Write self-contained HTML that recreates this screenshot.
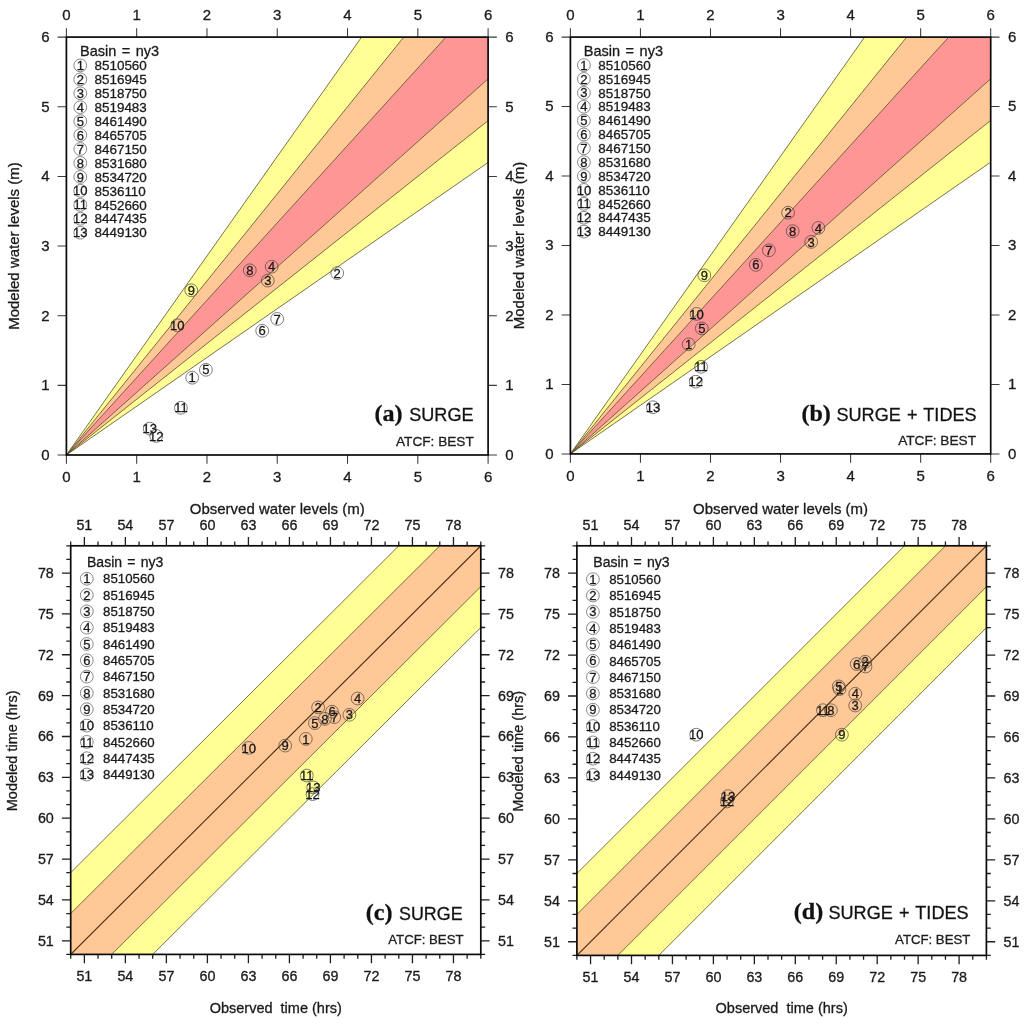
<!DOCTYPE html>
<html lang="en">
<head>
<meta charset="utf-8">
<title>Modeled vs observed water levels and timing - Basin ny3</title>
<style>
html,body{margin:0;padding:0;background:#fff;}
body{width:1024px;height:1026px;overflow:hidden;font-family:"Liberation Sans", "DejaVu Sans", sans-serif;}
svg{display:block;}
text{white-space:pre;stroke:#1a1a1a;stroke-width:0.3px;}
</style>
</head>
<body>
<svg width="1024" height="1026" viewBox="0 0 1024 1026">
<rect width="1024" height="1026" fill="#ffffff"/>
<g id="panel-a">
<clipPath id="clip-a"><rect x="66.4" y="37.1" width="421.7" height="417.9"/></clipPath>
<g clip-path="url(#clip-a)">
<polygon points="66.4,455 909.8,-130.06 909.8,-739" fill="#ffff96"/>
<polygon points="66.4,455 909.8,-213.64 909.8,-589.75" fill="#ffc896"/>
<polygon points="66.4,455 909.8,-297.22 909.8,-473.67" fill="#ff9696"/>
<line x1="66.4" y1="455" x2="909.8" y2="-130.06" stroke="#55502a" stroke-width="0.8"/>
<line x1="66.4" y1="455" x2="909.8" y2="-739" stroke="#55502a" stroke-width="0.8"/>
<line x1="66.4" y1="455" x2="909.8" y2="-213.64" stroke="#55502a" stroke-width="0.8"/>
<line x1="66.4" y1="455" x2="909.8" y2="-589.75" stroke="#55502a" stroke-width="0.8"/>
<line x1="66.4" y1="455" x2="909.8" y2="-297.22" stroke="#55502a" stroke-width="0.8"/>
<line x1="66.4" y1="455" x2="909.8" y2="-473.67" stroke="#55502a" stroke-width="0.8"/>
</g>
<path d="M66.4 455v8.8M66.4 37.1v-8.8M66.4 455h-8.8M488.1 455h8.8M136.68 455v8.8M136.68 37.1v-8.8M66.4 385.35h-8.8M488.1 385.35h8.8M206.97 455v8.8M206.97 37.1v-8.8M66.4 315.7h-8.8M488.1 315.7h8.8M277.25 455v8.8M277.25 37.1v-8.8M66.4 246.05h-8.8M488.1 246.05h8.8M347.53 455v8.8M347.53 37.1v-8.8M66.4 176.4h-8.8M488.1 176.4h8.8M417.82 455v8.8M417.82 37.1v-8.8M66.4 106.75h-8.8M488.1 106.75h8.8M488.1 455v8.8M488.1 37.1v-8.8M66.4 37.1h-8.8M488.1 37.1h8.8" stroke="#3a3a3a" stroke-width="1.05" fill="none"/>
<rect x="66.4" y="37.1" width="421.7" height="417.9" fill="none" stroke="#0a0a0a" stroke-width="1.7"/>
<g font-family='"Liberation Sans", "DejaVu Sans", sans-serif' font-size="15" fill="#1a1a1a">
<text x="66.4" y="482.4" text-anchor="middle">0</text>
<text x="66.4" y="20" text-anchor="middle">0</text>
<text x="49.5" y="459.9" text-anchor="end">0</text>
<text x="505.3" y="459.9" text-anchor="start">0</text>
<text x="136.68" y="482.4" text-anchor="middle">1</text>
<text x="136.68" y="20" text-anchor="middle">1</text>
<text x="49.5" y="390.25" text-anchor="end">1</text>
<text x="505.3" y="390.25" text-anchor="start">1</text>
<text x="206.97" y="482.4" text-anchor="middle">2</text>
<text x="206.97" y="20" text-anchor="middle">2</text>
<text x="49.5" y="320.6" text-anchor="end">2</text>
<text x="505.3" y="320.6" text-anchor="start">2</text>
<text x="277.25" y="482.4" text-anchor="middle">3</text>
<text x="277.25" y="20" text-anchor="middle">3</text>
<text x="49.5" y="250.95" text-anchor="end">3</text>
<text x="505.3" y="250.95" text-anchor="start">3</text>
<text x="347.53" y="482.4" text-anchor="middle">4</text>
<text x="347.53" y="20" text-anchor="middle">4</text>
<text x="49.5" y="181.3" text-anchor="end">4</text>
<text x="505.3" y="181.3" text-anchor="start">4</text>
<text x="417.82" y="482.4" text-anchor="middle">5</text>
<text x="417.82" y="20" text-anchor="middle">5</text>
<text x="49.5" y="111.65" text-anchor="end">5</text>
<text x="505.3" y="111.65" text-anchor="start">5</text>
<text x="488.1" y="482.4" text-anchor="middle">6</text>
<text x="488.1" y="20" text-anchor="middle">6</text>
<text x="49.5" y="42" text-anchor="end">6</text>
<text x="505.3" y="42" text-anchor="start">6</text>
</g>
<g font-family='"Liberation Sans", "DejaVu Sans", sans-serif' fill="#1a1a1a">
<text x="80" y="56.1" font-size="14.5" word-spacing="1.5">Basin = ny3</text>
<circle cx="80.3" cy="65.4" r="6.4" fill="none" stroke="#4a4a4a" stroke-width="0.65"/>
<text x="80.3" y="70" font-size="13" text-anchor="middle">1</text>
<text x="94.5" y="70.1" font-size="13.45">8510560</text>
<circle cx="80.3" cy="79.34" r="6.4" fill="none" stroke="#4a4a4a" stroke-width="0.65"/>
<text x="80.3" y="83.94" font-size="13" text-anchor="middle">2</text>
<text x="94.5" y="84.04" font-size="13.45">8516945</text>
<circle cx="80.3" cy="93.28" r="6.4" fill="none" stroke="#4a4a4a" stroke-width="0.65"/>
<text x="80.3" y="97.88" font-size="13" text-anchor="middle">3</text>
<text x="94.5" y="97.98" font-size="13.45">8518750</text>
<circle cx="80.3" cy="107.22" r="6.4" fill="none" stroke="#4a4a4a" stroke-width="0.65"/>
<text x="80.3" y="111.82" font-size="13" text-anchor="middle">4</text>
<text x="94.5" y="111.92" font-size="13.45">8519483</text>
<circle cx="80.3" cy="121.16" r="6.4" fill="none" stroke="#4a4a4a" stroke-width="0.65"/>
<text x="80.3" y="125.76" font-size="13" text-anchor="middle">5</text>
<text x="94.5" y="125.86" font-size="13.45">8461490</text>
<circle cx="80.3" cy="135.1" r="6.4" fill="none" stroke="#4a4a4a" stroke-width="0.65"/>
<text x="80.3" y="139.7" font-size="13" text-anchor="middle">6</text>
<text x="94.5" y="139.8" font-size="13.45">8465705</text>
<circle cx="80.3" cy="149.04" r="6.4" fill="none" stroke="#4a4a4a" stroke-width="0.65"/>
<text x="80.3" y="153.64" font-size="13" text-anchor="middle">7</text>
<text x="94.5" y="153.74" font-size="13.45">8467150</text>
<circle cx="80.3" cy="162.98" r="6.4" fill="none" stroke="#4a4a4a" stroke-width="0.65"/>
<text x="80.3" y="167.58" font-size="13" text-anchor="middle">8</text>
<text x="94.5" y="167.68" font-size="13.45">8531680</text>
<circle cx="80.3" cy="176.92" r="6.4" fill="none" stroke="#4a4a4a" stroke-width="0.65"/>
<text x="80.3" y="181.52" font-size="13" text-anchor="middle">9</text>
<text x="94.5" y="181.62" font-size="13.45">8534720</text>
<circle cx="80.3" cy="190.86" r="6.4" fill="none" stroke="#4a4a4a" stroke-width="0.65"/>
<text x="80.3" y="195.46" font-size="13" text-anchor="middle">10</text>
<text x="94.5" y="195.56" font-size="13.45">8536110</text>
<circle cx="80.3" cy="204.8" r="6.4" fill="none" stroke="#4a4a4a" stroke-width="0.65"/>
<text x="80.3" y="209.4" font-size="13" text-anchor="middle">11</text>
<text x="94.5" y="209.5" font-size="13.45">8452660</text>
<circle cx="80.3" cy="218.74" r="6.4" fill="none" stroke="#4a4a4a" stroke-width="0.65"/>
<text x="80.3" y="223.34" font-size="13" text-anchor="middle">12</text>
<text x="94.5" y="223.44" font-size="13.45">8447435</text>
<circle cx="80.3" cy="232.68" r="6.4" fill="none" stroke="#4a4a4a" stroke-width="0.65"/>
<text x="80.3" y="237.28" font-size="13" text-anchor="middle">13</text>
<text x="94.5" y="237.38" font-size="13.45">8449130</text>
</g>
<g font-family='"Liberation Sans", "DejaVu Sans", sans-serif' font-size="13" fill="#1a1a1a" text-anchor="middle">
<circle cx="192.2" cy="377.7" r="6.4" fill="none" stroke="#3a3a3a" stroke-width="0.65"/>
<text x="192.2" y="382.3">1</text>
<circle cx="337.2" cy="273.1" r="6.4" fill="none" stroke="#3a3a3a" stroke-width="0.65"/>
<text x="337.2" y="277.7">2</text>
<circle cx="267.8" cy="280.6" r="6.4" fill="none" stroke="#3a3a3a" stroke-width="0.65"/>
<text x="267.8" y="285.2">3</text>
<circle cx="271.7" cy="266.7" r="6.4" fill="none" stroke="#3a3a3a" stroke-width="0.65"/>
<text x="271.7" y="271.3">4</text>
<circle cx="205.9" cy="369.8" r="6.4" fill="none" stroke="#3a3a3a" stroke-width="0.65"/>
<text x="205.9" y="374.4">5</text>
<circle cx="262.2" cy="330.8" r="6.4" fill="none" stroke="#3a3a3a" stroke-width="0.65"/>
<text x="262.2" y="335.4">6</text>
<circle cx="277.2" cy="318.9" r="6.4" fill="none" stroke="#3a3a3a" stroke-width="0.65"/>
<text x="277.2" y="323.5">7</text>
<circle cx="249.8" cy="270.3" r="6.4" fill="none" stroke="#3a3a3a" stroke-width="0.65"/>
<text x="249.8" y="274.9">8</text>
<circle cx="191.25" cy="290.3" r="6.4" fill="none" stroke="#3a3a3a" stroke-width="0.65"/>
<text x="191.25" y="294.9">9</text>
<circle cx="177.2" cy="325.3" r="6.4" fill="none" stroke="#3a3a3a" stroke-width="0.65"/>
<text x="177.2" y="329.9">10</text>
<circle cx="180.9" cy="407.8" r="6.4" fill="none" stroke="#3a3a3a" stroke-width="0.65"/>
<text x="180.9" y="412.4">11</text>
<circle cx="156.25" cy="435.9" r="6.4" fill="none" stroke="#3a3a3a" stroke-width="0.65"/>
<text x="156.25" y="440.5">12</text>
<circle cx="149.7" cy="428.6" r="6.4" fill="none" stroke="#3a3a3a" stroke-width="0.65"/>
<text x="149.7" y="433.2">13</text>
</g>
<text x="473.6" y="421.2" text-anchor="end" font-family='"Liberation Sans", "DejaVu Sans", sans-serif' font-size="18.1" word-spacing="1.1" fill="#111">SURGE</text>
<text x="374.5" y="421.2" font-family='"Liberation Serif", "DejaVu Serif", serif' font-weight="bold" font-size="24.1" fill="#111">(a)</text>
<text x="473.8" y="446" text-anchor="end" font-family='"Liberation Sans", "DejaVu Sans", sans-serif' font-size="13.65" fill="#222">ATCF: BEST</text>
<text x="277.25" y="513.9" text-anchor="middle" font-family='"Liberation Sans", "DejaVu Sans", sans-serif' font-size="15" fill="#1a1a1a">Observed water levels (m)</text>
<text transform="translate(19.4 246.05) rotate(-90)" text-anchor="middle" font-family='"Liberation Sans", "DejaVu Sans", sans-serif' font-size="15" fill="#1a1a1a">Modeled water levels (m)</text>
</g>
<g id="panel-b">
<clipPath id="clip-b"><rect x="570.4" y="37.1" width="420.3" height="416.8"/></clipPath>
<g clip-path="url(#clip-b)">
<polygon points="570.4,453.9 1411,-129.62 1411,-736.96" fill="#ffff96"/>
<polygon points="570.4,453.9 1411,-212.98 1411,-588.1" fill="#ffc896"/>
<polygon points="570.4,453.9 1411,-296.34 1411,-472.32" fill="#ff9696"/>
<line x1="570.4" y1="453.9" x2="1411" y2="-129.62" stroke="#55502a" stroke-width="0.8"/>
<line x1="570.4" y1="453.9" x2="1411" y2="-736.96" stroke="#55502a" stroke-width="0.8"/>
<line x1="570.4" y1="453.9" x2="1411" y2="-212.98" stroke="#55502a" stroke-width="0.8"/>
<line x1="570.4" y1="453.9" x2="1411" y2="-588.1" stroke="#55502a" stroke-width="0.8"/>
<line x1="570.4" y1="453.9" x2="1411" y2="-296.34" stroke="#55502a" stroke-width="0.8"/>
<line x1="570.4" y1="453.9" x2="1411" y2="-472.32" stroke="#55502a" stroke-width="0.8"/>
</g>
<path d="M570.4 453.9v8.8M570.4 37.1v-8.8M570.4 453.9h-8.8M990.7 453.9h8.8M640.45 453.9v8.8M640.45 37.1v-8.8M570.4 384.43h-8.8M990.7 384.43h8.8M710.5 453.9v8.8M710.5 37.1v-8.8M570.4 314.97h-8.8M990.7 314.97h8.8M780.55 453.9v8.8M780.55 37.1v-8.8M570.4 245.5h-8.8M990.7 245.5h8.8M850.6 453.9v8.8M850.6 37.1v-8.8M570.4 176.03h-8.8M990.7 176.03h8.8M920.65 453.9v8.8M920.65 37.1v-8.8M570.4 106.57h-8.8M990.7 106.57h8.8M990.7 453.9v8.8M990.7 37.1v-8.8M570.4 37.1h-8.8M990.7 37.1h8.8" stroke="#3a3a3a" stroke-width="1.05" fill="none"/>
<rect x="570.4" y="37.1" width="420.3" height="416.8" fill="none" stroke="#0a0a0a" stroke-width="1.7"/>
<g font-family='"Liberation Sans", "DejaVu Sans", sans-serif' font-size="15" fill="#1a1a1a">
<text x="570.4" y="481.3" text-anchor="middle">0</text>
<text x="570.4" y="20" text-anchor="middle">0</text>
<text x="553.5" y="458.8" text-anchor="end">0</text>
<text x="1007.9" y="458.8" text-anchor="start">0</text>
<text x="640.45" y="481.3" text-anchor="middle">1</text>
<text x="640.45" y="20" text-anchor="middle">1</text>
<text x="553.5" y="389.33" text-anchor="end">1</text>
<text x="1007.9" y="389.33" text-anchor="start">1</text>
<text x="710.5" y="481.3" text-anchor="middle">2</text>
<text x="710.5" y="20" text-anchor="middle">2</text>
<text x="553.5" y="319.87" text-anchor="end">2</text>
<text x="1007.9" y="319.87" text-anchor="start">2</text>
<text x="780.55" y="481.3" text-anchor="middle">3</text>
<text x="780.55" y="20" text-anchor="middle">3</text>
<text x="553.5" y="250.4" text-anchor="end">3</text>
<text x="1007.9" y="250.4" text-anchor="start">3</text>
<text x="850.6" y="481.3" text-anchor="middle">4</text>
<text x="850.6" y="20" text-anchor="middle">4</text>
<text x="553.5" y="180.93" text-anchor="end">4</text>
<text x="1007.9" y="180.93" text-anchor="start">4</text>
<text x="920.65" y="481.3" text-anchor="middle">5</text>
<text x="920.65" y="20" text-anchor="middle">5</text>
<text x="553.5" y="111.47" text-anchor="end">5</text>
<text x="1007.9" y="111.47" text-anchor="start">5</text>
<text x="990.7" y="481.3" text-anchor="middle">6</text>
<text x="990.7" y="20" text-anchor="middle">6</text>
<text x="553.5" y="42" text-anchor="end">6</text>
<text x="1007.9" y="42" text-anchor="start">6</text>
</g>
<g font-family='"Liberation Sans", "DejaVu Sans", sans-serif' fill="#1a1a1a">
<text x="583.8" y="56" font-size="14.5" word-spacing="1.5">Basin = ny3</text>
<circle cx="583.9" cy="65.1" r="6.4" fill="none" stroke="#4a4a4a" stroke-width="0.65"/>
<text x="583.9" y="69.7" font-size="13" text-anchor="middle">1</text>
<text x="598.3" y="69.8" font-size="13.45">8510560</text>
<circle cx="583.9" cy="78.97" r="6.4" fill="none" stroke="#4a4a4a" stroke-width="0.65"/>
<text x="583.9" y="83.57" font-size="13" text-anchor="middle">2</text>
<text x="598.3" y="83.67" font-size="13.45">8516945</text>
<circle cx="583.9" cy="92.84" r="6.4" fill="none" stroke="#4a4a4a" stroke-width="0.65"/>
<text x="583.9" y="97.44" font-size="13" text-anchor="middle">3</text>
<text x="598.3" y="97.54" font-size="13.45">8518750</text>
<circle cx="583.9" cy="106.71" r="6.4" fill="none" stroke="#4a4a4a" stroke-width="0.65"/>
<text x="583.9" y="111.31" font-size="13" text-anchor="middle">4</text>
<text x="598.3" y="111.41" font-size="13.45">8519483</text>
<circle cx="583.9" cy="120.58" r="6.4" fill="none" stroke="#4a4a4a" stroke-width="0.65"/>
<text x="583.9" y="125.18" font-size="13" text-anchor="middle">5</text>
<text x="598.3" y="125.28" font-size="13.45">8461490</text>
<circle cx="583.9" cy="134.45" r="6.4" fill="none" stroke="#4a4a4a" stroke-width="0.65"/>
<text x="583.9" y="139.05" font-size="13" text-anchor="middle">6</text>
<text x="598.3" y="139.15" font-size="13.45">8465705</text>
<circle cx="583.9" cy="148.32" r="6.4" fill="none" stroke="#4a4a4a" stroke-width="0.65"/>
<text x="583.9" y="152.92" font-size="13" text-anchor="middle">7</text>
<text x="598.3" y="153.02" font-size="13.45">8467150</text>
<circle cx="583.9" cy="162.19" r="6.4" fill="none" stroke="#4a4a4a" stroke-width="0.65"/>
<text x="583.9" y="166.79" font-size="13" text-anchor="middle">8</text>
<text x="598.3" y="166.89" font-size="13.45">8531680</text>
<circle cx="583.9" cy="176.06" r="6.4" fill="none" stroke="#4a4a4a" stroke-width="0.65"/>
<text x="583.9" y="180.66" font-size="13" text-anchor="middle">9</text>
<text x="598.3" y="180.76" font-size="13.45">8534720</text>
<circle cx="583.9" cy="189.93" r="6.4" fill="none" stroke="#4a4a4a" stroke-width="0.65"/>
<text x="583.9" y="194.53" font-size="13" text-anchor="middle">10</text>
<text x="598.3" y="194.63" font-size="13.45">8536110</text>
<circle cx="583.9" cy="203.8" r="6.4" fill="none" stroke="#4a4a4a" stroke-width="0.65"/>
<text x="583.9" y="208.4" font-size="13" text-anchor="middle">11</text>
<text x="598.3" y="208.5" font-size="13.45">8452660</text>
<circle cx="583.9" cy="217.67" r="6.4" fill="none" stroke="#4a4a4a" stroke-width="0.65"/>
<text x="583.9" y="222.27" font-size="13" text-anchor="middle">12</text>
<text x="598.3" y="222.37" font-size="13.45">8447435</text>
<circle cx="583.9" cy="231.54" r="6.4" fill="none" stroke="#4a4a4a" stroke-width="0.65"/>
<text x="583.9" y="236.14" font-size="13" text-anchor="middle">13</text>
<text x="598.3" y="236.24" font-size="13.45">8449130</text>
</g>
<g font-family='"Liberation Sans", "DejaVu Sans", sans-serif' font-size="13" fill="#1a1a1a" text-anchor="middle">
<circle cx="688.7" cy="344.3" r="6.4" fill="none" stroke="#3a3a3a" stroke-width="0.65"/>
<text x="688.7" y="348.9">1</text>
<circle cx="788.05" cy="212.7" r="6.4" fill="none" stroke="#3a3a3a" stroke-width="0.65"/>
<text x="788.05" y="217.3">2</text>
<circle cx="811.2" cy="241.9" r="6.4" fill="none" stroke="#3a3a3a" stroke-width="0.65"/>
<text x="811.2" y="246.5">3</text>
<circle cx="818.4" cy="227.9" r="6.4" fill="none" stroke="#3a3a3a" stroke-width="0.65"/>
<text x="818.4" y="232.5">4</text>
<circle cx="701.8" cy="328.4" r="6.4" fill="none" stroke="#3a3a3a" stroke-width="0.65"/>
<text x="701.8" y="333">5</text>
<circle cx="755.8" cy="264.8" r="6.4" fill="none" stroke="#3a3a3a" stroke-width="0.65"/>
<text x="755.8" y="269.4">6</text>
<circle cx="768.9" cy="250.3" r="6.4" fill="none" stroke="#3a3a3a" stroke-width="0.65"/>
<text x="768.9" y="254.9">7</text>
<circle cx="792.7" cy="231.15" r="6.4" fill="none" stroke="#3a3a3a" stroke-width="0.65"/>
<text x="792.7" y="235.75">8</text>
<circle cx="704.3" cy="275.3" r="6.4" fill="none" stroke="#3a3a3a" stroke-width="0.65"/>
<text x="704.3" y="279.9">9</text>
<circle cx="696.6" cy="313.9" r="6.4" fill="none" stroke="#3a3a3a" stroke-width="0.65"/>
<text x="696.6" y="318.5">10</text>
<circle cx="701.1" cy="366.8" r="6.4" fill="none" stroke="#3a3a3a" stroke-width="0.65"/>
<text x="701.1" y="371.4">11</text>
<circle cx="695.7" cy="381.7" r="6.4" fill="none" stroke="#3a3a3a" stroke-width="0.65"/>
<text x="695.7" y="386.3">12</text>
<circle cx="652.9" cy="407.2" r="6.4" fill="none" stroke="#3a3a3a" stroke-width="0.65"/>
<text x="652.9" y="411.8">13</text>
</g>
<text x="976.6" y="421.3" text-anchor="end" font-family='"Liberation Sans", "DejaVu Sans", sans-serif' font-size="18.1" word-spacing="1.1" fill="#111">SURGE + TIDES</text>
<text x="801.4" y="421.3" font-family='"Liberation Serif", "DejaVu Serif", serif' font-weight="bold" font-size="24.1" fill="#111">(b)</text>
<text x="976" y="445.4" text-anchor="end" font-family='"Liberation Sans", "DejaVu Sans", sans-serif' font-size="13.65" fill="#222">ATCF: BEST</text>
<text x="780.55" y="513.9" text-anchor="middle" font-family='"Liberation Sans", "DejaVu Sans", sans-serif' font-size="15" fill="#1a1a1a">Observed water levels (m)</text>
<text transform="translate(523.5 245.5) rotate(-90)" text-anchor="middle" font-family='"Liberation Sans", "DejaVu Sans", sans-serif' font-size="15" fill="#1a1a1a">Modeled water levels (m)</text>
</g>
<rect x="0" y="516.6" width="1024" height="2.4" fill="#ffffff"/>
<g id="panel-c">
<clipPath id="clip-c"><rect x="70.7" y="545.8" width="410.1" height="408.6"/></clipPath>
<g clip-path="url(#clip-c)">
<polygon points="-66,1172.32 617.5,491.32 617.5,327.88 -66,1008.88" fill="#ffff96"/>
<polygon points="-66,1131.46 617.5,450.46 617.5,368.74 -66,1049.74" fill="#ffc896"/>
<line x1="-66" y1="1172.32" x2="617.5" y2="491.32" stroke="#55502a" stroke-width="0.8"/>
<line x1="-66" y1="1131.46" x2="617.5" y2="450.46" stroke="#55502a" stroke-width="0.8"/>
<line x1="-66" y1="1049.74" x2="617.5" y2="368.74" stroke="#55502a" stroke-width="0.8"/>
<line x1="-66" y1="1008.88" x2="617.5" y2="327.88" stroke="#55502a" stroke-width="0.8"/>
<line x1="-66" y1="1090.6" x2="617.5" y2="409.6" stroke="#4a3018" stroke-width="1.15"/>
</g>
<path d="M84.37 954.4v8.8M84.37 545.8v-8.8M70.7 940.78h-8.8M480.8 940.78h8.8M125.38 954.4v8.8M125.38 545.8v-8.8M70.7 899.92h-8.8M480.8 899.92h8.8M166.39 954.4v8.8M166.39 545.8v-8.8M70.7 859.06h-8.8M480.8 859.06h8.8M207.4 954.4v8.8M207.4 545.8v-8.8M70.7 818.2h-8.8M480.8 818.2h8.8M248.41 954.4v8.8M248.41 545.8v-8.8M70.7 777.34h-8.8M480.8 777.34h8.8M289.42 954.4v8.8M289.42 545.8v-8.8M70.7 736.48h-8.8M480.8 736.48h8.8M330.43 954.4v8.8M330.43 545.8v-8.8M70.7 695.62h-8.8M480.8 695.62h8.8M371.44 954.4v8.8M371.44 545.8v-8.8M70.7 654.76h-8.8M480.8 654.76h8.8M412.45 954.4v8.8M412.45 545.8v-8.8M70.7 613.9h-8.8M480.8 613.9h8.8M453.46 954.4v8.8M453.46 545.8v-8.8M70.7 573.04h-8.8M480.8 573.04h8.8M70.7 954.4v4.4M70.7 545.8v-4.4M70.7 954.4h-4.4M480.8 954.4h4.4M98.04 954.4v4.4M98.04 545.8v-4.4M70.7 927.16h-4.4M480.8 927.16h4.4M111.71 954.4v4.4M111.71 545.8v-4.4M70.7 913.54h-4.4M480.8 913.54h4.4M139.05 954.4v4.4M139.05 545.8v-4.4M70.7 886.3h-4.4M480.8 886.3h4.4M152.72 954.4v4.4M152.72 545.8v-4.4M70.7 872.68h-4.4M480.8 872.68h4.4M180.06 954.4v4.4M180.06 545.8v-4.4M70.7 845.44h-4.4M480.8 845.44h4.4M193.73 954.4v4.4M193.73 545.8v-4.4M70.7 831.82h-4.4M480.8 831.82h4.4M221.07 954.4v4.4M221.07 545.8v-4.4M70.7 804.58h-4.4M480.8 804.58h4.4M234.74 954.4v4.4M234.74 545.8v-4.4M70.7 790.96h-4.4M480.8 790.96h4.4M262.08 954.4v4.4M262.08 545.8v-4.4M70.7 763.72h-4.4M480.8 763.72h4.4M275.75 954.4v4.4M275.75 545.8v-4.4M70.7 750.1h-4.4M480.8 750.1h4.4M303.09 954.4v4.4M303.09 545.8v-4.4M70.7 722.86h-4.4M480.8 722.86h4.4M316.76 954.4v4.4M316.76 545.8v-4.4M70.7 709.24h-4.4M480.8 709.24h4.4M344.1 954.4v4.4M344.1 545.8v-4.4M70.7 682h-4.4M480.8 682h4.4M357.77 954.4v4.4M357.77 545.8v-4.4M70.7 668.38h-4.4M480.8 668.38h4.4M385.11 954.4v4.4M385.11 545.8v-4.4M70.7 641.14h-4.4M480.8 641.14h4.4M398.78 954.4v4.4M398.78 545.8v-4.4M70.7 627.52h-4.4M480.8 627.52h4.4M426.12 954.4v4.4M426.12 545.8v-4.4M70.7 600.28h-4.4M480.8 600.28h4.4M439.79 954.4v4.4M439.79 545.8v-4.4M70.7 586.66h-4.4M480.8 586.66h4.4M467.13 954.4v4.4M467.13 545.8v-4.4M70.7 559.42h-4.4M480.8 559.42h4.4M480.8 954.4v4.4M480.8 545.8v-4.4M70.7 545.8h-4.4M480.8 545.8h4.4" stroke="#1e1e1e" stroke-width="1.3" fill="none"/>
<rect x="70.7" y="545.8" width="410.1" height="408.6" fill="none" stroke="#0a0a0a" stroke-width="1.7"/>
<g font-family='"Liberation Sans", "DejaVu Sans", sans-serif' font-size="14.32" fill="#1a1a1a">
<text x="84.37" y="981.3" text-anchor="middle">51</text>
<text x="84.37" y="529.8" text-anchor="middle">51</text>
<text x="53.8" y="945.68" text-anchor="end">51</text>
<text x="498" y="945.68" text-anchor="start">51</text>
<text x="125.38" y="981.3" text-anchor="middle">54</text>
<text x="125.38" y="529.8" text-anchor="middle">54</text>
<text x="53.8" y="904.82" text-anchor="end">54</text>
<text x="498" y="904.82" text-anchor="start">54</text>
<text x="166.39" y="981.3" text-anchor="middle">57</text>
<text x="166.39" y="529.8" text-anchor="middle">57</text>
<text x="53.8" y="863.96" text-anchor="end">57</text>
<text x="498" y="863.96" text-anchor="start">57</text>
<text x="207.4" y="981.3" text-anchor="middle">60</text>
<text x="207.4" y="529.8" text-anchor="middle">60</text>
<text x="53.8" y="823.1" text-anchor="end">60</text>
<text x="498" y="823.1" text-anchor="start">60</text>
<text x="248.41" y="981.3" text-anchor="middle">63</text>
<text x="248.41" y="529.8" text-anchor="middle">63</text>
<text x="53.8" y="782.24" text-anchor="end">63</text>
<text x="498" y="782.24" text-anchor="start">63</text>
<text x="289.42" y="981.3" text-anchor="middle">66</text>
<text x="289.42" y="529.8" text-anchor="middle">66</text>
<text x="53.8" y="741.38" text-anchor="end">66</text>
<text x="498" y="741.38" text-anchor="start">66</text>
<text x="330.43" y="981.3" text-anchor="middle">69</text>
<text x="330.43" y="529.8" text-anchor="middle">69</text>
<text x="53.8" y="700.52" text-anchor="end">69</text>
<text x="498" y="700.52" text-anchor="start">69</text>
<text x="371.44" y="981.3" text-anchor="middle">72</text>
<text x="371.44" y="529.8" text-anchor="middle">72</text>
<text x="53.8" y="659.66" text-anchor="end">72</text>
<text x="498" y="659.66" text-anchor="start">72</text>
<text x="412.45" y="981.3" text-anchor="middle">75</text>
<text x="412.45" y="529.8" text-anchor="middle">75</text>
<text x="53.8" y="618.8" text-anchor="end">75</text>
<text x="498" y="618.8" text-anchor="start">75</text>
<text x="453.46" y="981.3" text-anchor="middle">78</text>
<text x="453.46" y="529.8" text-anchor="middle">78</text>
<text x="53.8" y="577.94" text-anchor="end">78</text>
<text x="498" y="577.94" text-anchor="start">78</text>
</g>
<g font-family='"Liberation Sans", "DejaVu Sans", sans-serif' fill="#1a1a1a">
<text x="87" y="567" font-size="14.02" word-spacing="1.3">Basin = ny3</text>
<circle cx="86.8" cy="578.7" r="6.4" fill="none" stroke="#4a4a4a" stroke-width="0.65"/>
<text x="86.8" y="583.3" font-size="13" text-anchor="middle">1</text>
<text x="103.1" y="583.4" font-size="13.25">8510560</text>
<circle cx="86.8" cy="595.02" r="6.4" fill="none" stroke="#4a4a4a" stroke-width="0.65"/>
<text x="86.8" y="599.62" font-size="13" text-anchor="middle">2</text>
<text x="103.1" y="599.72" font-size="13.25">8516945</text>
<circle cx="86.8" cy="611.34" r="6.4" fill="none" stroke="#4a4a4a" stroke-width="0.65"/>
<text x="86.8" y="615.94" font-size="13" text-anchor="middle">3</text>
<text x="103.1" y="616.04" font-size="13.25">8518750</text>
<circle cx="86.8" cy="627.66" r="6.4" fill="none" stroke="#4a4a4a" stroke-width="0.65"/>
<text x="86.8" y="632.26" font-size="13" text-anchor="middle">4</text>
<text x="103.1" y="632.36" font-size="13.25">8519483</text>
<circle cx="86.8" cy="643.98" r="6.4" fill="none" stroke="#4a4a4a" stroke-width="0.65"/>
<text x="86.8" y="648.58" font-size="13" text-anchor="middle">5</text>
<text x="103.1" y="648.68" font-size="13.25">8461490</text>
<circle cx="86.8" cy="660.3" r="6.4" fill="none" stroke="#4a4a4a" stroke-width="0.65"/>
<text x="86.8" y="664.9" font-size="13" text-anchor="middle">6</text>
<text x="103.1" y="665" font-size="13.25">8465705</text>
<circle cx="86.8" cy="676.62" r="6.4" fill="none" stroke="#4a4a4a" stroke-width="0.65"/>
<text x="86.8" y="681.22" font-size="13" text-anchor="middle">7</text>
<text x="103.1" y="681.32" font-size="13.25">8467150</text>
<circle cx="86.8" cy="692.94" r="6.4" fill="none" stroke="#4a4a4a" stroke-width="0.65"/>
<text x="86.8" y="697.54" font-size="13" text-anchor="middle">8</text>
<text x="103.1" y="697.64" font-size="13.25">8531680</text>
<circle cx="86.8" cy="709.26" r="6.4" fill="none" stroke="#4a4a4a" stroke-width="0.65"/>
<text x="86.8" y="713.86" font-size="13" text-anchor="middle">9</text>
<text x="103.1" y="713.96" font-size="13.25">8534720</text>
<circle cx="86.8" cy="725.58" r="6.4" fill="none" stroke="#4a4a4a" stroke-width="0.65"/>
<text x="86.8" y="730.18" font-size="13" text-anchor="middle">10</text>
<text x="103.1" y="730.28" font-size="13.25">8536110</text>
<circle cx="86.8" cy="741.9" r="6.4" fill="none" stroke="#4a4a4a" stroke-width="0.65"/>
<text x="86.8" y="746.5" font-size="13" text-anchor="middle">11</text>
<text x="103.1" y="746.6" font-size="13.25">8452660</text>
<circle cx="86.8" cy="758.22" r="6.4" fill="none" stroke="#4a4a4a" stroke-width="0.65"/>
<text x="86.8" y="762.82" font-size="13" text-anchor="middle">12</text>
<text x="103.1" y="762.92" font-size="13.25">8447435</text>
<circle cx="86.8" cy="774.54" r="6.4" fill="none" stroke="#4a4a4a" stroke-width="0.65"/>
<text x="86.8" y="779.14" font-size="13" text-anchor="middle">13</text>
<text x="103.1" y="779.24" font-size="13.25">8449130</text>
</g>
<g font-family='"Liberation Sans", "DejaVu Sans", sans-serif' font-size="13" fill="#1a1a1a" text-anchor="middle">
<circle cx="305.8" cy="738.9" r="6.4" fill="none" stroke="#3a3a3a" stroke-width="0.65"/>
<text x="305.8" y="743.5">1</text>
<circle cx="318.1" cy="707.4" r="6.4" fill="none" stroke="#3a3a3a" stroke-width="0.65"/>
<text x="318.1" y="712">2</text>
<circle cx="349.4" cy="714.8" r="6.4" fill="none" stroke="#3a3a3a" stroke-width="0.65"/>
<text x="349.4" y="719.4">3</text>
<circle cx="357.6" cy="698.5" r="6.4" fill="none" stroke="#3a3a3a" stroke-width="0.65"/>
<text x="357.6" y="703.1">4</text>
<circle cx="314.9" cy="723.1" r="6.4" fill="none" stroke="#3a3a3a" stroke-width="0.65"/>
<text x="314.9" y="727.7">5</text>
<circle cx="332" cy="711.7" r="6.4" fill="none" stroke="#3a3a3a" stroke-width="0.65"/>
<text x="332" y="716.3">6</text>
<circle cx="334.3" cy="717.1" r="6.4" fill="none" stroke="#3a3a3a" stroke-width="0.65"/>
<text x="334.3" y="721.7">7</text>
<circle cx="324.9" cy="718.9" r="6.4" fill="none" stroke="#3a3a3a" stroke-width="0.65"/>
<text x="324.9" y="723.5">8</text>
<circle cx="285.2" cy="745.6" r="6.4" fill="none" stroke="#3a3a3a" stroke-width="0.65"/>
<text x="285.2" y="750.2">9</text>
<circle cx="248.7" cy="747.9" r="6.4" fill="none" stroke="#3a3a3a" stroke-width="0.65"/>
<text x="248.7" y="752.5">10</text>
<circle cx="306.8" cy="775.5" r="6.4" fill="none" stroke="#3a3a3a" stroke-width="0.65"/>
<text x="306.8" y="780.1">11</text>
<circle cx="312.6" cy="794.1" r="6.4" fill="none" stroke="#3a3a3a" stroke-width="0.65"/>
<text x="312.6" y="798.7">12</text>
<circle cx="313.2" cy="787.4" r="6.4" fill="none" stroke="#3a3a3a" stroke-width="0.65"/>
<text x="313.2" y="792">13</text>
</g>
<text x="462.6" y="920.1" text-anchor="end" font-family='"Liberation Sans", "DejaVu Sans", sans-serif' font-size="17.9" word-spacing="1.1" fill="#111">SURGE</text>
<text x="365.7" y="920.1" font-family='"Liberation Serif", "DejaVu Serif", serif' font-weight="bold" font-size="24.1" fill="#111">(c)</text>
<text x="463.5" y="943.6" text-anchor="end" font-family='"Liberation Sans", "DejaVu Sans", sans-serif' font-size="13.2" fill="#222">ATCF: BEST</text>
<text x="275.75" y="1013" text-anchor="middle" font-family='"Liberation Sans", "DejaVu Sans", sans-serif' font-size="14.5" fill="#1a1a1a">Observed  time (hrs)</text>
<text transform="translate(17 750.8) rotate(-90)" text-anchor="middle" font-family='"Liberation Sans", "DejaVu Sans", sans-serif' font-size="14.5" fill="#1a1a1a">Modeled time (hrs)</text>
</g>
<g id="panel-d">
<clipPath id="clip-d"><rect x="576.9" y="545.8" width="409.5" height="409.6"/></clipPath>
<g clip-path="url(#clip-d)">
<polygon points="440.4,1173.85 1122.9,491.19 1122.9,327.35 440.4,1010.01" fill="#ffff96"/>
<polygon points="440.4,1132.89 1122.9,450.23 1122.9,368.31 440.4,1050.97" fill="#ffc896"/>
<line x1="440.4" y1="1173.85" x2="1122.9" y2="491.19" stroke="#55502a" stroke-width="0.8"/>
<line x1="440.4" y1="1132.89" x2="1122.9" y2="450.23" stroke="#55502a" stroke-width="0.8"/>
<line x1="440.4" y1="1050.97" x2="1122.9" y2="368.31" stroke="#55502a" stroke-width="0.8"/>
<line x1="440.4" y1="1010.01" x2="1122.9" y2="327.35" stroke="#55502a" stroke-width="0.8"/>
<line x1="440.4" y1="1091.93" x2="1122.9" y2="409.27" stroke="#4a3018" stroke-width="1.15"/>
</g>
<path d="M590.55 955.4v8.8M590.55 545.8v-8.8M576.9 941.75h-8.8M986.4 941.75h8.8M631.5 955.4v8.8M631.5 545.8v-8.8M576.9 900.79h-8.8M986.4 900.79h8.8M672.45 955.4v8.8M672.45 545.8v-8.8M576.9 859.83h-8.8M986.4 859.83h8.8M713.4 955.4v8.8M713.4 545.8v-8.8M576.9 818.87h-8.8M986.4 818.87h8.8M754.35 955.4v8.8M754.35 545.8v-8.8M576.9 777.91h-8.8M986.4 777.91h8.8M795.3 955.4v8.8M795.3 545.8v-8.8M576.9 736.95h-8.8M986.4 736.95h8.8M836.25 955.4v8.8M836.25 545.8v-8.8M576.9 695.99h-8.8M986.4 695.99h8.8M877.2 955.4v8.8M877.2 545.8v-8.8M576.9 655.03h-8.8M986.4 655.03h8.8M918.15 955.4v8.8M918.15 545.8v-8.8M576.9 614.07h-8.8M986.4 614.07h8.8M959.1 955.4v8.8M959.1 545.8v-8.8M576.9 573.11h-8.8M986.4 573.11h8.8M576.9 955.4v4.4M576.9 545.8v-4.4M576.9 955.4h-4.4M986.4 955.4h4.4M604.2 955.4v4.4M604.2 545.8v-4.4M576.9 928.09h-4.4M986.4 928.09h4.4M617.85 955.4v4.4M617.85 545.8v-4.4M576.9 914.44h-4.4M986.4 914.44h4.4M645.15 955.4v4.4M645.15 545.8v-4.4M576.9 887.13h-4.4M986.4 887.13h4.4M658.8 955.4v4.4M658.8 545.8v-4.4M576.9 873.48h-4.4M986.4 873.48h4.4M686.1 955.4v4.4M686.1 545.8v-4.4M576.9 846.17h-4.4M986.4 846.17h4.4M699.75 955.4v4.4M699.75 545.8v-4.4M576.9 832.52h-4.4M986.4 832.52h4.4M727.05 955.4v4.4M727.05 545.8v-4.4M576.9 805.21h-4.4M986.4 805.21h4.4M740.7 955.4v4.4M740.7 545.8v-4.4M576.9 791.56h-4.4M986.4 791.56h4.4M768 955.4v4.4M768 545.8v-4.4M576.9 764.25h-4.4M986.4 764.25h4.4M781.65 955.4v4.4M781.65 545.8v-4.4M576.9 750.6h-4.4M986.4 750.6h4.4M808.95 955.4v4.4M808.95 545.8v-4.4M576.9 723.29h-4.4M986.4 723.29h4.4M822.6 955.4v4.4M822.6 545.8v-4.4M576.9 709.64h-4.4M986.4 709.64h4.4M849.9 955.4v4.4M849.9 545.8v-4.4M576.9 682.33h-4.4M986.4 682.33h4.4M863.55 955.4v4.4M863.55 545.8v-4.4M576.9 668.68h-4.4M986.4 668.68h4.4M890.85 955.4v4.4M890.85 545.8v-4.4M576.9 641.37h-4.4M986.4 641.37h4.4M904.5 955.4v4.4M904.5 545.8v-4.4M576.9 627.72h-4.4M986.4 627.72h4.4M931.8 955.4v4.4M931.8 545.8v-4.4M576.9 600.41h-4.4M986.4 600.41h4.4M945.45 955.4v4.4M945.45 545.8v-4.4M576.9 586.76h-4.4M986.4 586.76h4.4M972.75 955.4v4.4M972.75 545.8v-4.4M576.9 559.45h-4.4M986.4 559.45h4.4M986.4 955.4v4.4M986.4 545.8v-4.4M576.9 545.8h-4.4M986.4 545.8h4.4" stroke="#1e1e1e" stroke-width="1.3" fill="none"/>
<rect x="576.9" y="545.8" width="409.5" height="409.6" fill="none" stroke="#0a0a0a" stroke-width="1.7"/>
<g font-family='"Liberation Sans", "DejaVu Sans", sans-serif' font-size="14.32" fill="#1a1a1a">
<text x="590.55" y="982.3" text-anchor="middle">51</text>
<text x="590.55" y="529.8" text-anchor="middle">51</text>
<text x="560" y="946.65" text-anchor="end">51</text>
<text x="1003.6" y="946.65" text-anchor="start">51</text>
<text x="631.5" y="982.3" text-anchor="middle">54</text>
<text x="631.5" y="529.8" text-anchor="middle">54</text>
<text x="560" y="905.69" text-anchor="end">54</text>
<text x="1003.6" y="905.69" text-anchor="start">54</text>
<text x="672.45" y="982.3" text-anchor="middle">57</text>
<text x="672.45" y="529.8" text-anchor="middle">57</text>
<text x="560" y="864.73" text-anchor="end">57</text>
<text x="1003.6" y="864.73" text-anchor="start">57</text>
<text x="713.4" y="982.3" text-anchor="middle">60</text>
<text x="713.4" y="529.8" text-anchor="middle">60</text>
<text x="560" y="823.77" text-anchor="end">60</text>
<text x="1003.6" y="823.77" text-anchor="start">60</text>
<text x="754.35" y="982.3" text-anchor="middle">63</text>
<text x="754.35" y="529.8" text-anchor="middle">63</text>
<text x="560" y="782.81" text-anchor="end">63</text>
<text x="1003.6" y="782.81" text-anchor="start">63</text>
<text x="795.3" y="982.3" text-anchor="middle">66</text>
<text x="795.3" y="529.8" text-anchor="middle">66</text>
<text x="560" y="741.85" text-anchor="end">66</text>
<text x="1003.6" y="741.85" text-anchor="start">66</text>
<text x="836.25" y="982.3" text-anchor="middle">69</text>
<text x="836.25" y="529.8" text-anchor="middle">69</text>
<text x="560" y="700.89" text-anchor="end">69</text>
<text x="1003.6" y="700.89" text-anchor="start">69</text>
<text x="877.2" y="982.3" text-anchor="middle">72</text>
<text x="877.2" y="529.8" text-anchor="middle">72</text>
<text x="560" y="659.93" text-anchor="end">72</text>
<text x="1003.6" y="659.93" text-anchor="start">72</text>
<text x="918.15" y="982.3" text-anchor="middle">75</text>
<text x="918.15" y="529.8" text-anchor="middle">75</text>
<text x="560" y="618.97" text-anchor="end">75</text>
<text x="1003.6" y="618.97" text-anchor="start">75</text>
<text x="959.1" y="982.3" text-anchor="middle">78</text>
<text x="959.1" y="529.8" text-anchor="middle">78</text>
<text x="560" y="578.01" text-anchor="end">78</text>
<text x="1003.6" y="578.01" text-anchor="start">78</text>
</g>
<g font-family='"Liberation Sans", "DejaVu Sans", sans-serif' fill="#1a1a1a">
<text x="593.3" y="567" font-size="14.02" word-spacing="1.3">Basin = ny3</text>
<circle cx="592.9" cy="579.2" r="6.4" fill="none" stroke="#4a4a4a" stroke-width="0.65"/>
<text x="592.9" y="583.8" font-size="13" text-anchor="middle">1</text>
<text x="609.2" y="583.9" font-size="13.25">8510560</text>
<circle cx="592.9" cy="595.52" r="6.4" fill="none" stroke="#4a4a4a" stroke-width="0.65"/>
<text x="592.9" y="600.12" font-size="13" text-anchor="middle">2</text>
<text x="609.2" y="600.22" font-size="13.25">8516945</text>
<circle cx="592.9" cy="611.84" r="6.4" fill="none" stroke="#4a4a4a" stroke-width="0.65"/>
<text x="592.9" y="616.44" font-size="13" text-anchor="middle">3</text>
<text x="609.2" y="616.54" font-size="13.25">8518750</text>
<circle cx="592.9" cy="628.16" r="6.4" fill="none" stroke="#4a4a4a" stroke-width="0.65"/>
<text x="592.9" y="632.76" font-size="13" text-anchor="middle">4</text>
<text x="609.2" y="632.86" font-size="13.25">8519483</text>
<circle cx="592.9" cy="644.48" r="6.4" fill="none" stroke="#4a4a4a" stroke-width="0.65"/>
<text x="592.9" y="649.08" font-size="13" text-anchor="middle">5</text>
<text x="609.2" y="649.18" font-size="13.25">8461490</text>
<circle cx="592.9" cy="660.8" r="6.4" fill="none" stroke="#4a4a4a" stroke-width="0.65"/>
<text x="592.9" y="665.4" font-size="13" text-anchor="middle">6</text>
<text x="609.2" y="665.5" font-size="13.25">8465705</text>
<circle cx="592.9" cy="677.12" r="6.4" fill="none" stroke="#4a4a4a" stroke-width="0.65"/>
<text x="592.9" y="681.72" font-size="13" text-anchor="middle">7</text>
<text x="609.2" y="681.82" font-size="13.25">8467150</text>
<circle cx="592.9" cy="693.44" r="6.4" fill="none" stroke="#4a4a4a" stroke-width="0.65"/>
<text x="592.9" y="698.04" font-size="13" text-anchor="middle">8</text>
<text x="609.2" y="698.14" font-size="13.25">8531680</text>
<circle cx="592.9" cy="709.76" r="6.4" fill="none" stroke="#4a4a4a" stroke-width="0.65"/>
<text x="592.9" y="714.36" font-size="13" text-anchor="middle">9</text>
<text x="609.2" y="714.46" font-size="13.25">8534720</text>
<circle cx="592.9" cy="726.08" r="6.4" fill="none" stroke="#4a4a4a" stroke-width="0.65"/>
<text x="592.9" y="730.68" font-size="13" text-anchor="middle">10</text>
<text x="609.2" y="730.78" font-size="13.25">8536110</text>
<circle cx="592.9" cy="742.4" r="6.4" fill="none" stroke="#4a4a4a" stroke-width="0.65"/>
<text x="592.9" y="747" font-size="13" text-anchor="middle">11</text>
<text x="609.2" y="747.1" font-size="13.25">8452660</text>
<circle cx="592.9" cy="758.72" r="6.4" fill="none" stroke="#4a4a4a" stroke-width="0.65"/>
<text x="592.9" y="763.32" font-size="13" text-anchor="middle">12</text>
<text x="609.2" y="763.42" font-size="13.25">8447435</text>
<circle cx="592.9" cy="775.04" r="6.4" fill="none" stroke="#4a4a4a" stroke-width="0.65"/>
<text x="592.9" y="779.64" font-size="13" text-anchor="middle">13</text>
<text x="609.2" y="779.74" font-size="13.25">8449130</text>
</g>
<g font-family='"Liberation Sans", "DejaVu Sans", sans-serif' font-size="13" fill="#1a1a1a" text-anchor="middle">
<circle cx="839.5" cy="689.1" r="6.4" fill="none" stroke="#3a3a3a" stroke-width="0.65"/>
<text x="839.5" y="693.7">1</text>
<circle cx="865.2" cy="661.8" r="6.4" fill="none" stroke="#3a3a3a" stroke-width="0.65"/>
<text x="865.2" y="666.4">2</text>
<circle cx="855.2" cy="705.5" r="6.4" fill="none" stroke="#3a3a3a" stroke-width="0.65"/>
<text x="855.2" y="710.1">3</text>
<circle cx="855.3" cy="693.8" r="6.4" fill="none" stroke="#3a3a3a" stroke-width="0.65"/>
<text x="855.3" y="698.4">4</text>
<circle cx="838.75" cy="686.4" r="6.4" fill="none" stroke="#3a3a3a" stroke-width="0.65"/>
<text x="838.75" y="691">5</text>
<circle cx="856.7" cy="664.1" r="6.4" fill="none" stroke="#3a3a3a" stroke-width="0.65"/>
<text x="856.7" y="668.7">6</text>
<circle cx="865.5" cy="666.5" r="6.4" fill="none" stroke="#3a3a3a" stroke-width="0.65"/>
<text x="865.5" y="671.1">7</text>
<circle cx="830.9" cy="710.2" r="6.4" fill="none" stroke="#3a3a3a" stroke-width="0.65"/>
<text x="830.9" y="714.8">8</text>
<circle cx="841.9" cy="734.7" r="6.4" fill="none" stroke="#3a3a3a" stroke-width="0.65"/>
<text x="841.9" y="739.3">9</text>
<circle cx="696.2" cy="734.7" r="6.4" fill="none" stroke="#3a3a3a" stroke-width="0.65"/>
<text x="696.2" y="739.3">10</text>
<circle cx="822.9" cy="710.2" r="6.4" fill="none" stroke="#3a3a3a" stroke-width="0.65"/>
<text x="822.9" y="714.8">11</text>
<circle cx="726.9" cy="801.5" r="6.4" fill="none" stroke="#3a3a3a" stroke-width="0.65"/>
<text x="726.9" y="806.1">12</text>
<circle cx="728" cy="796.2" r="6.4" fill="none" stroke="#3a3a3a" stroke-width="0.65"/>
<text x="728" y="800.8">13</text>
</g>
<text x="968.6" y="919.3" text-anchor="end" font-family='"Liberation Sans", "DejaVu Sans", sans-serif' font-size="18.1" word-spacing="1.1" fill="#111">SURGE + TIDES</text>
<text x="793.8" y="919.3" font-family='"Liberation Serif", "DejaVu Serif", serif' font-weight="bold" font-size="24.1" fill="#111">(d)</text>
<text x="970.3" y="944.4" text-anchor="end" font-family='"Liberation Sans", "DejaVu Sans", sans-serif' font-size="13.2" fill="#222">ATCF: BEST</text>
<text x="781.65" y="1013" text-anchor="middle" font-family='"Liberation Sans", "DejaVu Sans", sans-serif' font-size="14.5" fill="#1a1a1a">Observed  time (hrs)</text>
<text transform="translate(523 751.3) rotate(-90)" text-anchor="middle" font-family='"Liberation Sans", "DejaVu Sans", sans-serif' font-size="14.5" fill="#1a1a1a">Modeled time (hrs)</text>
</g>
</svg>
</body>
</html>
